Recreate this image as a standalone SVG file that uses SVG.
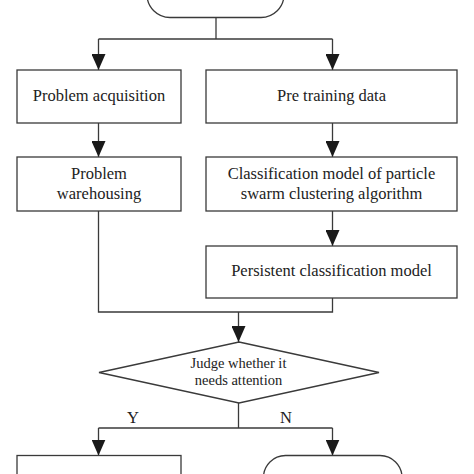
<svg xmlns="http://www.w3.org/2000/svg" width="474" height="474" viewBox="0 0 474 474">
<defs>
<marker id="arr" markerWidth="16" markerHeight="14" refX="16" refY="7" orient="auto" markerUnits="userSpaceOnUse" viewBox="0 0 16 14">
<path d="M0,0 L16,7 L0,14 Z" fill="#1a1a1a"/>
</marker>
<style>
.box{fill:#fff;stroke:#3a3a3a;stroke-width:1.3}
.ln{fill:none;stroke:#3a3a3a;stroke-width:1.3}
.t{font-family:"Liberation Serif","Times New Roman",serif;font-size:16.5px;fill:#222;text-anchor:middle}
.s{font-size:14.5px}
</style>
</defs>
<rect width="474" height="474" fill="#fff"/>
<g id="connectors">
<path class="ln" d="M216,17.5 V39"/>
<path class="ln" d="M98.5,39 H332.5"/>
<path class="ln" d="M98.5,39 V70" marker-end="url(#arr)"/>
<path class="ln" d="M332.5,39 V70" marker-end="url(#arr)"/>
<path class="ln" d="M98.5,123 V157" marker-end="url(#arr)"/>
<path class="ln" d="M332.5,123 V157" marker-end="url(#arr)"/>
<path class="ln" d="M332.5,211 V246" marker-end="url(#arr)"/>
<path class="ln" d="M98.5,211 V312 H332.5 V298"/>
<path class="ln" d="M238.5,312 V342" marker-end="url(#arr)"/>
<path class="ln" d="M238.5,403 V428"/>
<path class="ln" d="M98.5,428 H332.5"/>
<path class="ln" d="M98.5,428 V455.5" marker-end="url(#arr)"/>
<path class="ln" d="M332.5,428 V455.5" marker-end="url(#arr)"/>
<text class="t" x="133" y="423">Y</text>
<text class="t" x="286" y="423">N</text>
</g>
<g id="start">
<rect class="box" x="147" y="-30" width="137" height="47.5" rx="23" ry="23"/>
</g>
<g id="problem-acquisition">
<rect class="box" x="17" y="70" width="164" height="53"/>
<text class="t" x="99" y="101">Problem acquisition</text>
</g>
<g id="pre-training-data">
<rect class="box" x="206" y="70" width="251" height="53"/>
<text class="t" x="331.5" y="101">Pre training data</text>
</g>
<g id="problem-warehousing">
<rect class="box" x="17" y="157" width="164" height="54"/>
<text class="t" x="99" y="179">Problem</text>
<text class="t" x="99" y="199">warehousing</text>
</g>
<g id="classification-model">
<rect class="box" x="206" y="157" width="251" height="54"/>
<text class="t" x="331.5" y="179">Classification model of particle</text>
<text class="t" x="331.5" y="199">swarm clustering algorithm</text>
</g>
<g id="persistent-model">
<rect class="box" x="206" y="246" width="251" height="52"/>
<text class="t" x="331.5" y="276">Persistent classification model</text>
</g>
<g id="judge">
<polygon class="box" points="239,342 379,372.5 239,403 99,372.5"/>
<text class="t s" x="238.5" y="368">Judge whether it</text>
<text class="t s" x="238.5" y="385">needs attention</text>
</g>
<g id="yes-box">
<rect class="box" x="17" y="455.5" width="164" height="40"/>
</g>
<g id="no-end">
<rect class="box" x="263.5" y="455.5" width="138.5" height="50" rx="22" ry="22"/>
</g>
</svg>
